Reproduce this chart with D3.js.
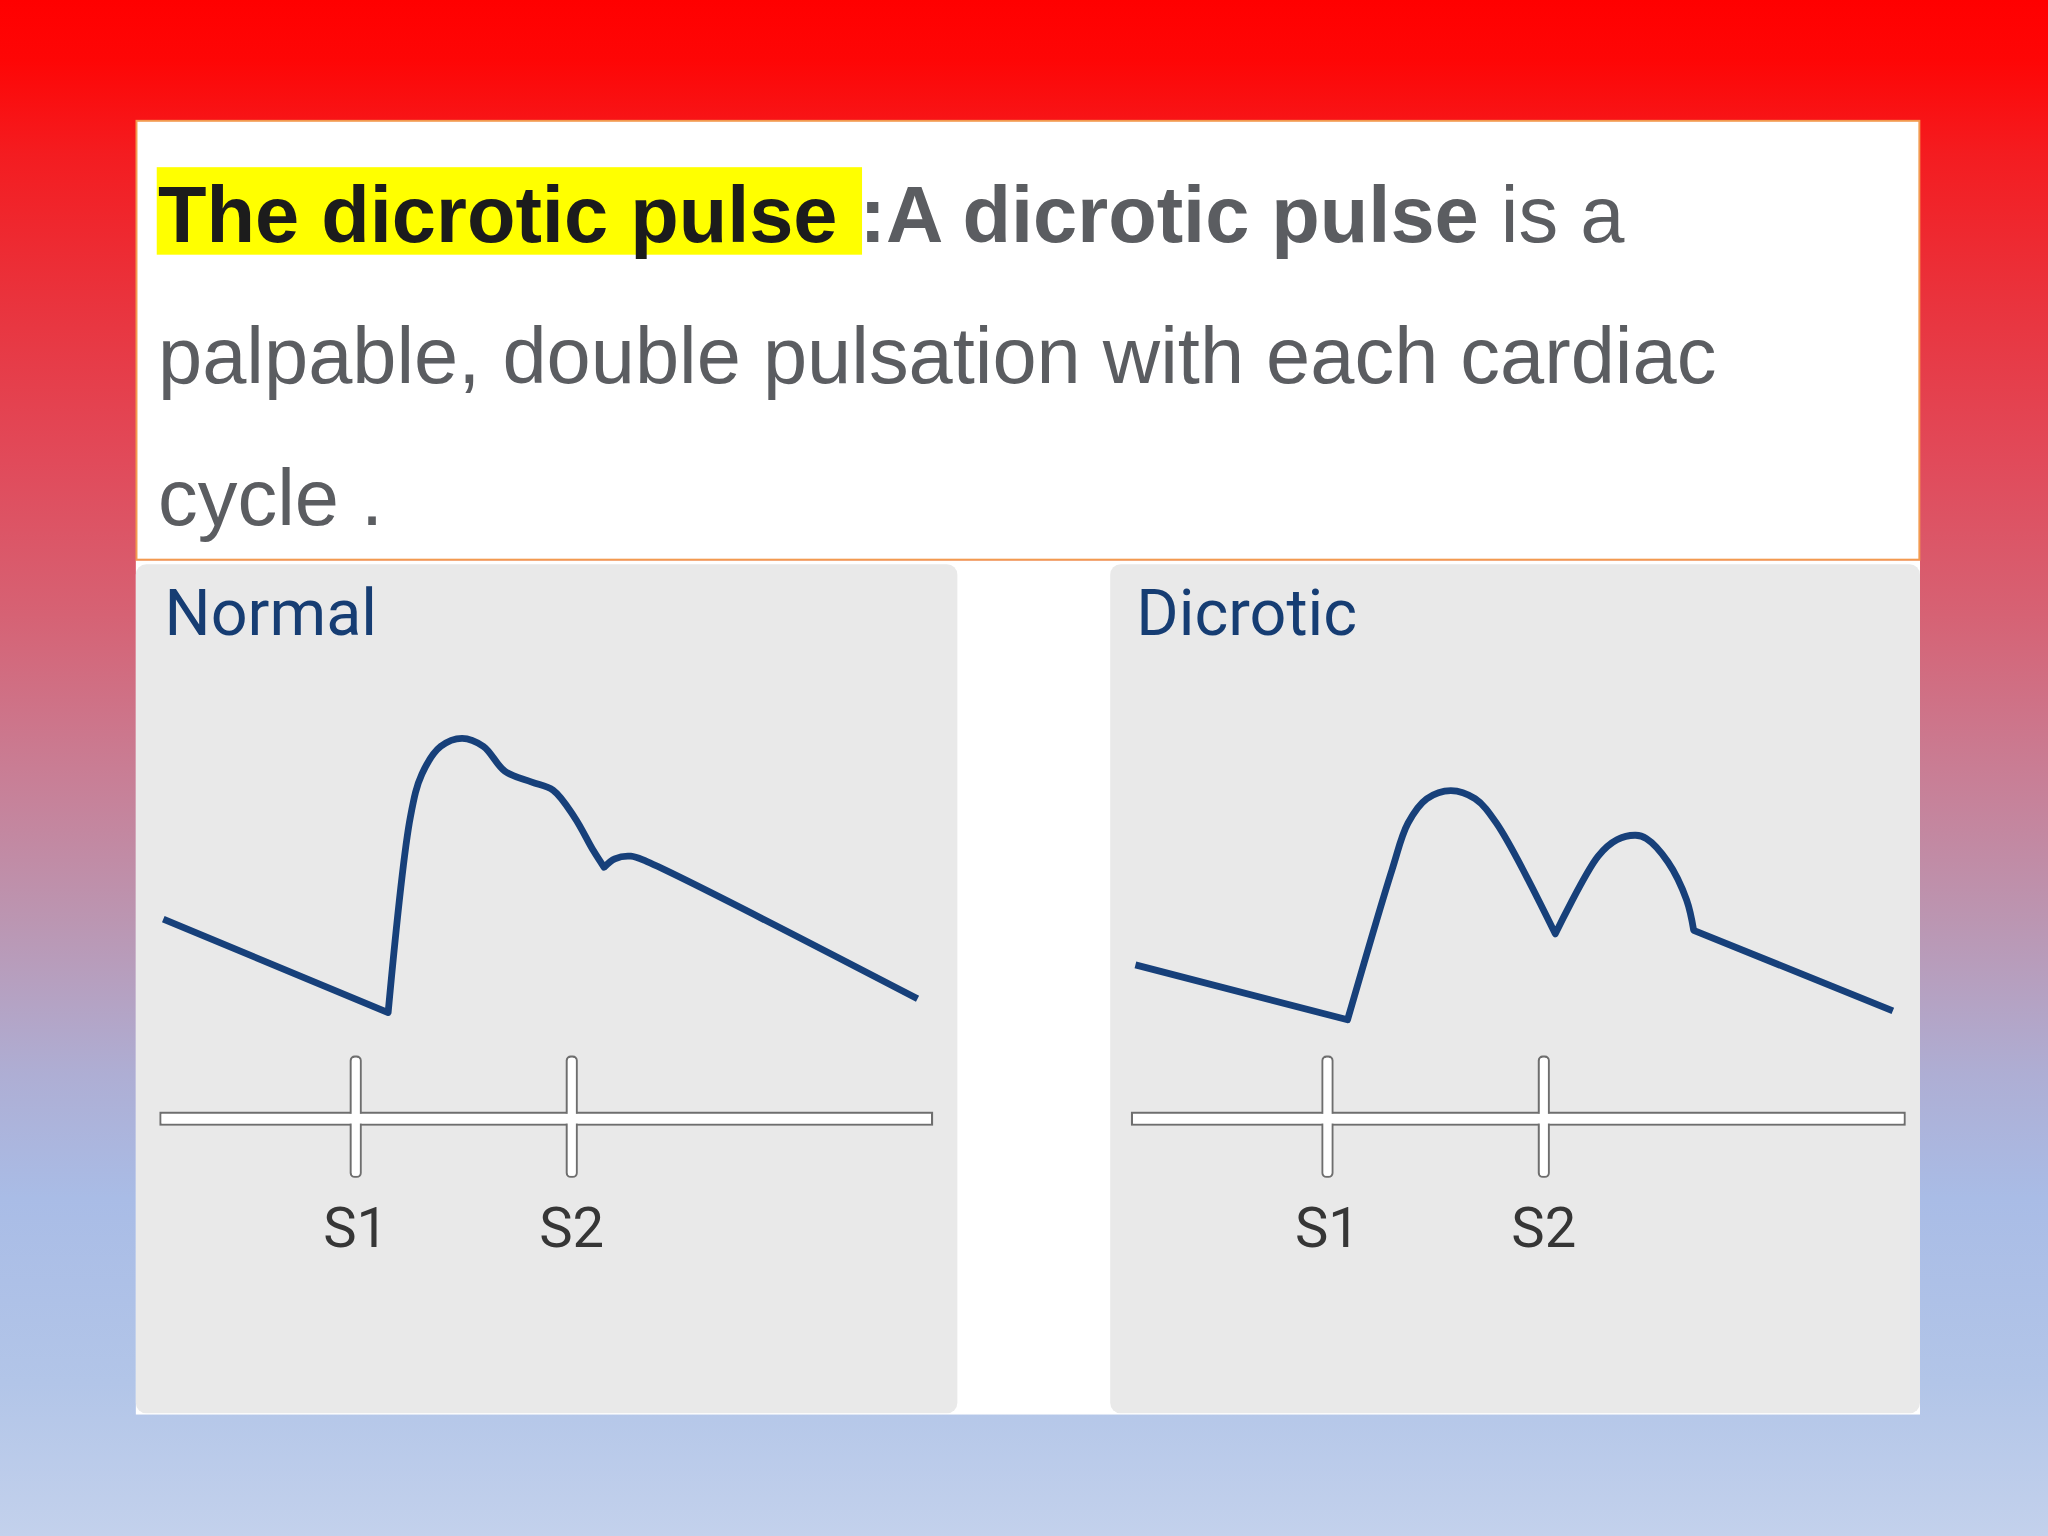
<!DOCTYPE html>
<html>
<head>
<meta charset="utf-8">
<script src="https://cdn.jsdelivr.net/npm/d3@7"></script>
<style>
  html, body { margin: 0; padding: 0; background: #fff; }
  svg { display: block; }
</style>
</head>
<body>
<div id="chart"></div>
<script>
// ---------- DATA ----------
const panelTitles = ["Normal", "Dicrotic"];
const tickLabels = ["S1", "S2"];
const tickTimes = [253, 533];               // heart-sound times (arbitrary ms units, 0..1000)

// Normal arterial pulse: time (0..1000) and pressure (0..100 arbitrary)
const normalTime     = [3.6, 295, 324, 338.9, 363.1, 390.9, 418.6, 446.4, 481.3, 508.9, 536.8, 561, 574.9, 588.8, 609.6, 630.6, 981.2];
const normalPressure = [38.5, 9.9, 70, 83, 91.4, 93.9, 91.4, 83.8, 80.5, 78, 69.6, 59.5, 54.4, 57, 57.8, 56.1, 14.1];
const normalKinks    = [1, 12];   // indices of sharp corners

// Dicrotic pulse
const dicroticTime     = [4.4, 279, 336.4, 357.2, 381.6, 412.7, 444, 471.7, 547.9, 603.4, 627.7, 651.9, 665.8, 693.5, 717.8, 727, 984.8];
const dicroticPressure = [24.5, 7.7, 53.5, 67.9, 75.4, 77.9, 75.4, 67.9, 34, 57.8, 62.8, 64.2, 63.2, 56.1, 44.4, 35.1, 10.4];
const dicroticKinks    = [1, 8, 15];

const headingHighlight = "The dicrotic pulse ";
const headingBold = ":A dicrotic pulse";
const headingRest1 = " is a";
const headingLine2 = "palpable, double pulsation with each cardiac";
const headingLine3 = "cycle .";

// ---------- LAYOUT ----------
const W = 1568, H = 1176;
const svg = d3.select("#chart").append("svg")
  .attr("width", 2048).attr("height", 1536)
  .attr("viewBox", `0 0 ${W} ${H}`);

// background gradient
const defs = svg.append("defs");
const grad = defs.append("linearGradient").attr("id", "bg")
  .attr("x1", 0).attr("y1", 0).attr("x2", 0).attr("y2", 1);
[[0, "#ff0000"], [0.04, "#fe0606"], [0.1, "#f41c20"], [0.2, "#e9343e"], [0.3, "#e14a5a"],
 [0.4, "#d66274"], [0.5, "#c97d94"], [0.6, "#bb96b2"], [0.7, "#aeaed4"], [0.78, "#a9bce6"],
 [0.9, "#b2c5e8"], [1, "#c3d1ec"]].forEach(([o, c]) =>
  grad.append("stop").attr("offset", o).attr("stop-color", c));
svg.append("rect").attr("width", W).attr("height", H).attr("fill", "url(#bg)");

// image area (white) and text box
svg.append("rect").attr("x", 104).attr("y", 429).attr("width", 1366).attr("height", 654).attr("fill", "#ffffff");
svg.append("rect").attr("x", 104.5).attr("y", 92.5).attr("width", 1365).attr("height", 336)
  .attr("fill", "#ffffff").attr("stroke", "#f39a50").attr("stroke-width", 1.5);

// heading text
const fontMain = "'Liberation Sans', Arial, sans-serif";
svg.append("rect").attr("x", 120).attr("y", 128).attr("width", 540).attr("height", 67).attr("fill", "#ffff00");
const t1 = svg.append("text").attr("x", 121).attr("y", 185)
  .attr("font-family", fontMain).attr("font-size", 60.8).attr("xml:space", "preserve");
t1.append("tspan").attr("font-weight", "bold").attr("fill", "#1c1c1c").text(headingHighlight);
t1.append("tspan").attr("font-weight", "bold").attr("fill", "#5b5d61").text(headingBold);
t1.append("tspan").attr("fill", "#5b5d61").text(headingRest1);
svg.append("text").attr("x", 121).attr("y", 293).attr("font-family", fontMain).attr("font-size", 60.8)
  .attr("fill", "#5b5d61").text(headingLine2);
svg.append("text").attr("x", 121).attr("y", 402).attr("font-family", fontMain).attr("font-size", 60.8)
  .attr("fill", "#5b5d61").text(headingLine3);

// ---------- PANELS ----------
const panels = [
  { title: panelTitles[0], time: normalTime, pressure: normalPressure, kinks: normalKinks,
    box: [104, 432, 629, 650], titleX: 126, axisX: [122.9, 713.6] },
  { title: panelTitles[1], time: dicroticTime, pressure: dicroticPressure, kinks: dicroticKinks,
    box: [850, 432, 620, 650], titleX: 870, axisX: [866.7, 1458.2] }
];

const yScale = d3.scaleLinear().domain([0, 100]).range([800, 550]);
const axisY = 856.5;

panels.forEach(p => {
  const g = svg.append("g");
  g.append("rect").attr("x", p.box[0]).attr("y", p.box[1]).attr("width", p.box[2]).attr("height", p.box[3])
    .attr("rx", 8).attr("fill", "#e9e9e9");
  g.append("text").attr("x", p.titleX).attr("y", 486)
    .attr("font-family", "Roboto, 'Open Sans', sans-serif").attr("font-size", 49.5)
    .attr("fill", "#163d73").text(p.title);

  const x = d3.scaleLinear().domain([0, 1000]).range(p.axisX);

  // time axis: bar + ticks (outline union)
  const tickW = 7.6, tickTop = 809, tickBot = 901, barH = 9;
  const strokeCol = "#6e6e6e";
  const ax = g.append("g");
  ax.append("rect").attr("x", x(0)).attr("y", axisY - barH / 2).attr("width", x(1000) - x(0)).attr("height", barH)
    .attr("fill", "#fff").attr("stroke", strokeCol).attr("stroke-width", 1.6);
  ax.selectAll("rect.tk").data(tickTimes).join("rect").attr("class", "tk")
    .attr("x", d => x(d) - tickW / 2).attr("y", tickTop).attr("width", tickW).attr("height", tickBot - tickTop)
    .attr("rx", 3).attr("fill", "#fff").attr("stroke", strokeCol).attr("stroke-width", 1.6);
  // fills on top to merge outlines
  ax.append("rect").attr("x", x(0) + 0.8).attr("y", axisY - barH / 2 + 0.8).attr("width", x(1000) - x(0) - 1.6)
    .attr("height", barH - 1.6).attr("fill", "#fff");
  ax.selectAll("rect.tkf").data(tickTimes).join("rect").attr("class", "tkf")
    .attr("x", d => x(d) - tickW / 2 + 0.8).attr("y", tickTop + 0.8).attr("width", tickW - 1.6)
    .attr("height", tickBot - tickTop - 1.6).attr("rx", 2.5).attr("fill", "#fff");
  ax.selectAll("text").data(tickTimes).join("text")
    .attr("x", d => x(d)).attr("y", 955).attr("text-anchor", "middle")
    .attr("font-family", "Roboto, 'Open Sans', sans-serif").attr("font-size", 43)
    .attr("fill", "#363636").text((d, i) => tickLabels[i]);

  // waveform: smooth segments split at sharp corners
  const pts = p.time.map((t, i) => [t, p.pressure[i]]);
  const bounds = [0, ...p.kinks, pts.length - 1];
  const path = d3.path();
  let started = false;
  const ctx = {
    moveTo(a, b) { if (started) path.lineTo(a, b); else { path.moveTo(a, b); started = true; } },
    lineTo(a, b) { path.lineTo(a, b); },
    bezierCurveTo(a, b, c, d, e, f) { path.bezierCurveTo(a, b, c, d, e, f); },
    closePath() { path.closePath(); }
  };
  const line = d3.line().x(d => x(d[0])).y(d => yScale(d[1]))
    .curve(d3.curveCatmullRom.alpha(0.5)).context(ctx);
  for (let i = 0; i < bounds.length - 1; i++) {
    line(pts.slice(bounds[i], bounds[i + 1] + 1));
  }
  g.append("path").attr("d", path.toString()).attr("fill", "none")
    .attr("stroke", "#17407a").attr("stroke-width", 5.2).attr("stroke-linejoin", "round");
});
</script>
</body>
</html>
